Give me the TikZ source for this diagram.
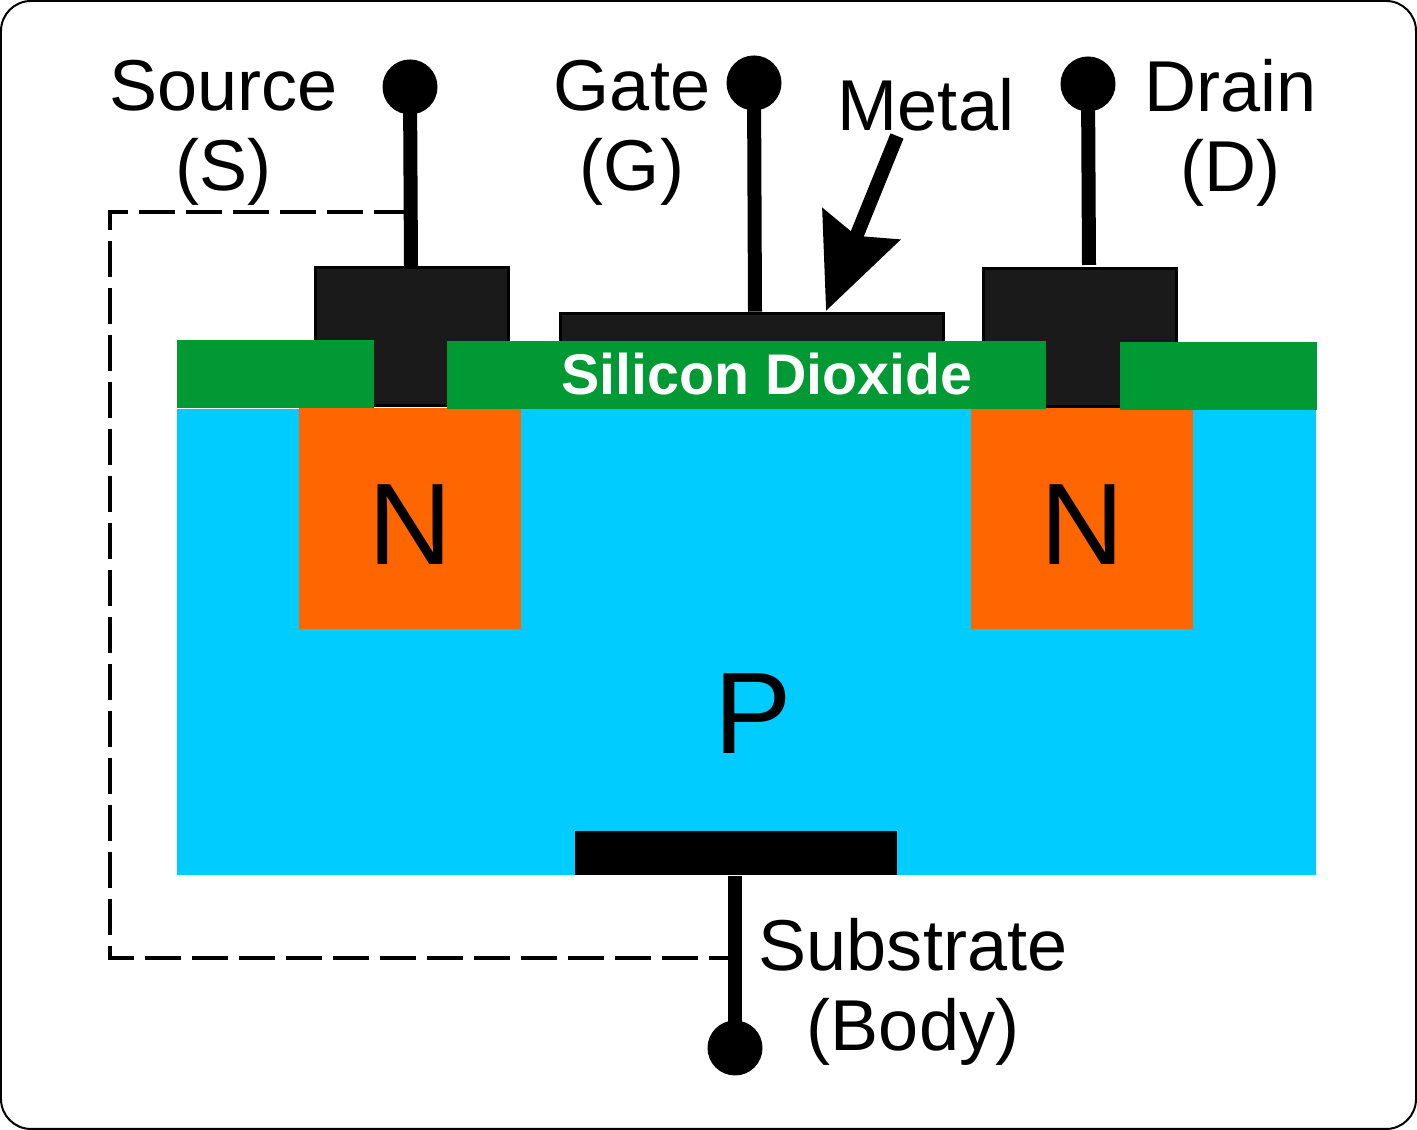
\documentclass[tikz,border=0pt]{standalone}
\usepackage{fontspec}
\setmainfont{Liberation Sans}
\usetikzlibrary{arrows.meta}

\definecolor{pbody}{HTML}{00CCFF}
\definecolor{ndope}{HTML}{FF6600}
\definecolor{oxide}{HTML}{009933}
\definecolor{metal}{HTML}{1A1A1A}

\begin{document}
\begin{tikzpicture}[
		region/.style = {
			shape = rectangle,
			inner sep = 0pt,
		},
		metalbox/.style = {
			region,
			draw = black,
			fill = metal,
			line width = 0.035cm,
		},
		oxidebox/.style = {
			region,
			fill = oxide,
			minimum width = 1.97cm,
			minimum height = 0.68cm,
		},
		ndopebox/.style = {
			region,
			fill = ndope,
			minimum width = 2.22cm,
			minimum height = 2.21cm,
		},
		terminal/.style = {
			shape = circle,
			fill = black,
			inner sep = 0pt,
			minimum size = 0.55cm,
		},
		wire/.style = {
			line width = 0.14cm,
		},
		tie/.style = {
			line width = 0.035cm,
			dash pattern = on 0.36cm off 0.11cm,
		},
		termlabel/.style = {
			align = center,
			inner sep = 0pt,
			font = \fontsize{20.5}{22.8}\selectfont,
		},
		dopelabel/.style = {
			inner sep = 0pt,
			font = \fontsize{33}{36}\selectfont,
		},
	]
	\useasboundingbox (0, 0) rectangle (14.17, 11.3);
	\draw[line width = 0.02cm, rounded corners = 0.3cm, fill = white] (0.01, 0.01) rectangle (14.16, 11.29);

	% body and wells
	\draw (7.465, 4.88) node (pbody) [region, fill = pbody, minimum width = 11.39cm, minimum height = 4.66cm] {};
	\draw (4.10, 6.115) node (nleft) [ndopebox] {};
	\draw (10.82, 6.11) node (nright) [ndopebox] {};
	\draw (7.36, 2.77) node (bmetal) [region, fill = black, minimum width = 3.22cm, minimum height = 0.44cm] {};
	\draw (7.535, 4.165) node (plabel) [dopelabel] {P};
	\draw (4.10, 6.05) node (nleftlabel) [dopelabel] {N};
	\draw (10.82, 6.05) node (nrightlabel) [dopelabel] {N};

	% metal
	\draw (4.12, 7.935) node (smetal) [metalbox, minimum width = 1.93cm, minimum height = 1.38cm] {};
	\draw (7.52, 8.015) node (gmetal) [metalbox, minimum width = 3.83cm, minimum height = 0.30cm] {};
	\draw (10.80, 7.925) node (dmetal) [metalbox, minimum width = 1.93cm, minimum height = 1.38cm] {};

	% oxide
	\draw (2.755, 7.56) node (oxleft) [oxidebox] {};
	\draw (7.465, 7.55) node (oxmid) [oxidebox, minimum width = 5.99cm] {};
	\draw (12.185, 7.54) node (oxright) [oxidebox] {};
	\draw (7.67, 7.56) node (oxlabel) [region, text = white, font = \fontsize{16.3}{18}\selectfont\bfseries] {Silicon Dioxide};

	% terminals
	\draw (4.10, 10.43) node (sterm) [terminal] {};
	\draw (7.54, 10.47) node (gterm) [terminal] {};
	\draw (10.88, 10.46) node (dterm) [terminal] {};
	\draw (7.35, 0.82) node (bterm) [terminal] {};
	\coordinate (sfoot) at (4.11, 8.64);
	\coordinate (dfoot) at (10.89, 8.65);
	\coordinate (sjoin) at (4.10, 9.18);
	\coordinate (scorner) at (1.10, 9.18);
	\coordinate (bjoin) at (7.35, 1.72);
	\coordinate (metaltail) at (8.97, 9.94);
	\coordinate (metaltip) at (8.26, 8.19);

	% labels
	\draw (2.235, 9.97) node (slabel) [termlabel] {Source\\(S)};
	\draw (6.32, 9.97) node (glabel) [termlabel] {Gate\\(G)};
	\draw (12.305, 9.97) node (dlabel) [termlabel] {Drain\\(D)};
	\draw (9.26, 10.25) node (mlabel) [termlabel] {Metal};
	\draw (9.13, 1.38) node (blabel) [termlabel] {Substrate\\(Body)};

	% connectors
	\draw[tie] (sjoin) -- (scorner) |- (bjoin);
	\draw[wire] (sterm.center) -- (sfoot);
	\draw[wire] (gterm.center) -- ([xshift = 0.03cm]gmetal.north);
	\draw[wire] (dterm.center) -- (dfoot);
	\draw[wire] (bterm.center) -- (bterm |- bmetal.south);
	\draw[wire, -{Stealth[length = 0.93cm, width = 0.82cm, inset = 0.12cm]}] (metaltail) -- (metaltip);
\end{tikzpicture}
\end{document}
